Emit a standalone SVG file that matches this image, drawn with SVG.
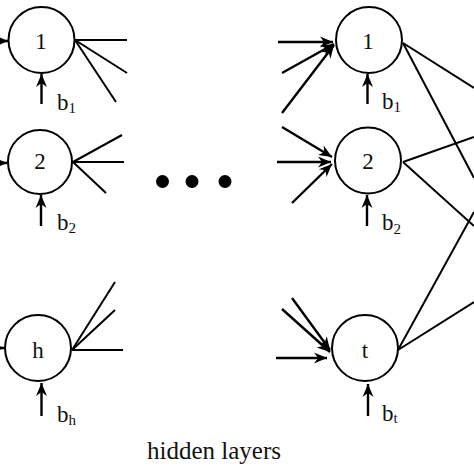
<svg xmlns="http://www.w3.org/2000/svg" width="474" height="474" viewBox="0 0 474 474">
<style>
.n{fill:#fff;stroke:#000;stroke-width:2}
.l{stroke:#000;stroke-width:2;fill:none}
.a{stroke:#000;stroke-width:2.4;fill:none;marker-end:url(#ah)}
.t{font-family:"Liberation Serif","Times New Roman",serif;fill:#111}
.lab{font-size:23px;text-anchor:middle}
.b{font-size:23px}
.s{font-size:15px}
</style>
<defs>
<marker id="ah" markerUnits="userSpaceOnUse" viewBox="-14 -7 16 14" refX="0" refY="0" markerWidth="16" markerHeight="14" orient="auto">
<path d="M0,0 L-13,-5.5 L-9,0 L-13,5.5 Z" fill="#000"/>
</marker>
</defs>
<rect width="474" height="474" fill="#fff"/>
<g id="connectors">
<!-- left side partial inputs -->
<line class="a" x1="-30" y1="41" x2="8" y2="41"/>
<line class="a" x1="-30" y1="163" x2="7" y2="163"/>
<line class="a" x1="-30" y1="348" x2="4" y2="348"/>
<!-- left outputs -->
<line class="l" x1="75" y1="40" x2="127" y2="40"/>
<line class="l" x1="75" y1="40" x2="127" y2="73"/>
<line class="l" x1="75" y1="40" x2="116" y2="102"/>
<line class="l" x1="73" y1="162" x2="122" y2="135"/>
<line class="l" x1="73" y1="162" x2="124" y2="162"/>
<line class="l" x1="73" y1="162" x2="106" y2="193"/>
<line class="l" x1="72" y1="350" x2="115" y2="282"/>
<line class="l" x1="72" y1="350" x2="115" y2="310"/>
<line class="l" x1="72" y1="350" x2="123" y2="350"/>
<!-- right inputs -->
<line class="a" x1="278" y1="42" x2="333" y2="42"/>
<line class="a" x1="282" y1="73" x2="334" y2="44"/>
<line class="a" x1="282" y1="113" x2="334" y2="45"/>
<line class="a" x1="282" y1="127" x2="332" y2="157"/>
<line class="a" x1="277" y1="162" x2="331" y2="162"/>
<line class="a" x1="292" y1="203" x2="332" y2="164"/>
<line class="a" x1="292" y1="298" x2="330" y2="350"/>
<line class="a" x1="282" y1="309" x2="330" y2="352"/>
<line class="a" x1="276" y1="358" x2="327" y2="358"/>
<!-- right outputs -->
<line class="l" x1="403" y1="43" x2="474" y2="88"/>
<line class="l" x1="403" y1="43" x2="474" y2="178"/>
<line class="l" x1="403" y1="162" x2="474" y2="137"/>
<line class="l" x1="403" y1="162" x2="474" y2="226"/>
<line class="l" x1="398" y1="350" x2="474" y2="212"/>
<line class="l" x1="398" y1="350" x2="474" y2="302"/>
<!-- bias arrows -->
<line class="a" x1="41.5" y1="104" x2="41.5" y2="74"/>
<line class="a" x1="41" y1="226" x2="41" y2="195"/>
<line class="a" x1="41.5" y1="416" x2="41.5" y2="383"/>
<line class="a" x1="367.5" y1="104" x2="367.5" y2="74"/>
<line class="a" x1="367" y1="226" x2="367" y2="195"/>
<line class="a" x1="368" y1="416" x2="368" y2="384"/>
</g>
<g id="node-h1"><circle class="n" cx="41.5" cy="40" r="33"/><text class="t lab" x="41" y="49">1</text></g>
<g id="node-h2"><circle class="n" cx="40" cy="162" r="32"/><text class="t lab" x="40" y="169">2</text></g>
<g id="node-hh"><circle class="n" cx="38" cy="348" r="33"/><text class="t lab" x="38" y="358">h</text></g>
<g id="node-o1"><circle class="n" cx="369" cy="40" r="33"/><text class="t lab" x="368" y="49">1</text></g>
<g id="node-o2"><circle class="n" cx="368" cy="160.5" r="33"/><text class="t lab" x="368" y="169">2</text></g>
<g id="node-ot"><circle class="n" cx="365" cy="348" r="33"/><text class="t lab" x="365" y="358">t</text></g>
<g id="bias-labels">
<text class="t b" x="57" y="110">b<tspan class="s" dy="3">1</tspan></text>
<text class="t b" x="57" y="230">b<tspan class="s" dy="3">2</tspan></text>
<text class="t b" x="57" y="422">b<tspan class="s" dy="3">h</tspan></text>
<text class="t b" x="382" y="109">b<tspan class="s" dy="3">1</tspan></text>
<text class="t b" x="382" y="230">b<tspan class="s" dy="4">2</tspan></text>
<text class="t b" x="382" y="421">b<tspan class="s" dy="2">t</tspan></text>
</g>
<g id="ellipsis">
<circle cx="162.5" cy="181.5" r="6.5" fill="#000"/>
<circle cx="192" cy="181.5" r="6.5" fill="#000"/>
<circle cx="225" cy="181.5" r="6.5" fill="#000"/>
</g>
<text class="t" x="147" y="459" font-size="25">hidden layers</text>
</svg>
